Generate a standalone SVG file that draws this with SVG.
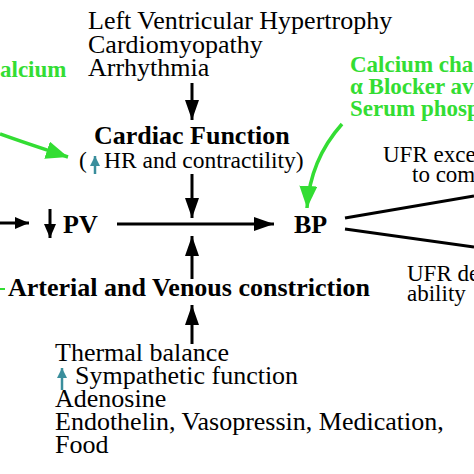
<svg xmlns="http://www.w3.org/2000/svg" width="474" height="474" viewBox="0 0 474 474">
<style>
.t{font-family:"Liberation Serif","Times New Roman",serif;font-size:26px;fill:#000}
.b{font-weight:bold}
.g{font-family:"Liberation Serif","Times New Roman",serif;font-size:23px;font-weight:bold;fill:#33dd33}
.s{font-family:"Liberation Serif","Times New Roman",serif;font-size:23px;fill:#000}
.k{stroke:#000;stroke-width:3;fill:none}
.gl{stroke:#33dd33;stroke-width:3.5;fill:none}
.tl{stroke:#3a8e9c;stroke-width:2.5;fill:none}
</style>
<defs>
<marker id="ah" markerUnits="userSpaceOnUse" markerWidth="20" markerHeight="14" refX="20" refY="7" orient="auto"><path d="M0,0 L20,7 L0,14 z" fill="#000"/></marker>
<marker id="ahs" markerUnits="userSpaceOnUse" markerWidth="14" markerHeight="12" refX="14" refY="6" orient="auto"><path d="M0,0 L14,6 L0,12 z" fill="#000"/></marker>
<marker id="ag" markerUnits="userSpaceOnUse" markerWidth="22" markerHeight="18" refX="22" refY="9" orient="auto"><path d="M0,0 L22,9 L0,18 z" fill="#33dd33"/></marker>
<marker id="at" markerUnits="userSpaceOnUse" markerWidth="10" markerHeight="10" refX="10" refY="5" orient="auto"><path d="M0,0 L10,5 L0,10 z" fill="#3a8e9c"/></marker>
</defs>
<g id="causes-top">
<text class="t" x="88" y="29">Left Ventricular Hypertrophy</text>
<text class="t" x="88" y="53">Cardiomyopathy</text>
<text class="t" x="88" y="76">Arrhythmia</text>
</g>
<g id="calcium-left"><text class="g" x="0" y="77">alcium</text></g>
<g id="green-right">
<text class="g" x="350" y="72">Calcium cha</text>
<text class="g" x="350" y="94">α Blocker av</text>
<text class="g" x="350" y="116">Serum phosp</text>
</g>
<g id="cardiac-function">
<text class="t b" x="94" y="144">Cardiac Function</text>
<text class="t" x="79" y="168" style="font-size:23.5px">(</text>
<text class="t" x="104" y="168" style="font-size:23.5px">HR and contractility)</text>
</g>
<g id="pv"><text class="t b" x="63" y="233">PV</text></g>
<g id="bp"><text class="t b" x="294" y="233">BP</text></g>
<g id="constriction"><text class="t b" x="8" y="296">Arterial and Venous constriction</text></g>
<g id="causes-bottom">
<text class="t" x="55" y="361">Thermal balance</text>
<text class="t" x="75" y="384">Sympathetic function</text>
<text class="t" x="55" y="407">Adenosine</text>
<text class="t" x="55" y="430">Endothelin, Vasopressin, Medication,</text>
<text class="t" x="55" y="453">Food</text>
</g>
<g id="ufr-up">
<text class="s" x="383" y="162">UFR exce</text>
<text class="s" x="412" y="182">to com</text>
</g>
<g id="ufr-down">
<text class="s" x="407" y="281">UFR de</text>
<text class="s" x="407" y="301">ability</text>
</g>
<g id="connectors">
<line class="k" x1="192" y1="83" x2="192" y2="120" marker-end="url(#ah)"/>
<line class="k" x1="192" y1="174" x2="192" y2="218" marker-end="url(#ah)"/>
<line class="k" x1="117" y1="224" x2="274" y2="224" marker-end="url(#ah)"/>
<line class="k" x1="192" y1="279" x2="192" y2="236" marker-end="url(#ah)"/>
<line class="k" x1="192" y1="344" x2="192" y2="305" marker-end="url(#ah)"/>
<line class="k" x1="0" y1="223" x2="29" y2="223" marker-end="url(#ahs)"/>
<line class="k" x1="50" y1="209" x2="50" y2="238" marker-end="url(#ahs)"/>
<line class="k" x1="345" y1="218" x2="474" y2="196"/>
<line class="k" x1="345" y1="229" x2="474" y2="247"/>
<path class="gl" d="M0,134 Q25,143 68,157" marker-end="url(#ag)"/>
<path class="gl" d="M342,124 Q310,160 307,208" marker-end="url(#ag)"/>
<line class="gl" x1="0" y1="289" x2="5" y2="289" style="stroke-width:2"/>
<line class="tl" x1="95" y1="174" x2="95" y2="156" marker-end="url(#at)"/>
<line class="tl" x1="62" y1="390" x2="62" y2="368" marker-end="url(#at)"/>
</g>
</svg>
